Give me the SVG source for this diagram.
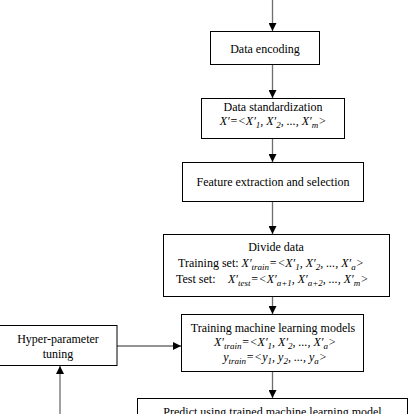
<svg xmlns="http://www.w3.org/2000/svg" width="414" height="414" viewBox="0 0 414 414">
<style>
.box{fill:#fff;stroke:#000;stroke-width:1}
.t{font-family:"Liberation Serif","Times New Roman",serif;font-size:12px;fill:#000}
.i{font-style:italic}
.s{font-size:9px;font-style:italic}
.c{stroke:#6e6e6e;stroke-width:1.3;fill:none}
</style>
<defs>
<marker id="ah" markerUnits="userSpaceOnUse" markerWidth="8" markerHeight="8" refX="8" refY="4" orient="auto">
<path d="M0,0 L8,4 L0,8 z" fill="#000"/>
</marker>
</defs>
<rect width="414" height="414" fill="#fff"/>
<g id="connectors">
<line class="c" x1="272.5" y1="0" x2="272.5" y2="31" marker-end="url(#ah)"/>
<line class="c" x1="272.5" y1="65" x2="272.5" y2="98" marker-end="url(#ah)"/>
<line class="c" x1="272.5" y1="139" x2="272.5" y2="162" marker-end="url(#ah)"/>
<line class="c" x1="272.5" y1="202" x2="272.5" y2="234" marker-end="url(#ah)"/>
<line class="c" x1="272.5" y1="297" x2="272.5" y2="314" marker-end="url(#ah)"/>
<line class="c" x1="272.5" y1="372" x2="272.5" y2="398" marker-end="url(#ah)"/>
<line class="c" x1="117" y1="346" x2="181" y2="346" marker-end="url(#ah)"/>
<line class="c" x1="60" y1="414" x2="60" y2="366" marker-end="url(#ah)"/>
</g>
<g id="encoding">
<rect class="box" x="210.5" y="31.5" width="109" height="33"/>
<text class="t" x="265" y="53" text-anchor="middle">Data encoding</text>
</g>
<g id="standardization">
<rect class="box" x="201.5" y="98.5" width="143" height="40"/>
<text class="t" x="273" y="111" text-anchor="middle">Data standardization</text>
<text class="t i" x="273" y="125" text-anchor="middle">X′=&lt;X′<tspan class="s" dy="3">1</tspan><tspan dy="-3">, X′</tspan><tspan class="s" dy="3">2</tspan><tspan dy="-3">, ..., X′</tspan><tspan class="s" dy="3">m</tspan><tspan dy="-3">&gt;</tspan></text>
</g>
<g id="feature">
<rect class="box" x="182.5" y="162.5" width="181" height="39"/>
<text class="t" x="273" y="186" text-anchor="middle">Feature extraction and selection</text>
</g>
<g id="divide">
<rect class="box" x="163.5" y="234.5" width="226" height="62"/>
<text class="t" x="276" y="251" text-anchor="middle">Divide data</text>
<text class="t" x="178" y="267">Training set: <tspan class="i">X′</tspan><tspan class="s" dy="3">train</tspan><tspan class="i" dy="-3">=&lt;X′</tspan><tspan class="s" dy="3">1</tspan><tspan class="i" dy="-3">, X′</tspan><tspan class="s" dy="3">2</tspan><tspan class="i" dy="-3">, ..., X′</tspan><tspan class="s" dy="3">a</tspan><tspan class="i" dy="-3">&gt;</tspan></text>
<text class="t" x="176" y="283">Test set:</text>
<text class="t i" x="228" y="283">X′<tspan class="s" dy="3">test</tspan><tspan dy="-3">=&lt;X′</tspan><tspan class="s" dy="3">a+1</tspan><tspan dy="-3">, X′</tspan><tspan class="s" dy="3">a+2</tspan><tspan dy="-3">, ..., X′</tspan><tspan class="s" dy="3">m</tspan><tspan dy="-3">&gt;</tspan></text>
</g>
<g id="hyper">
<rect class="box" x="-1" y="325.5" width="118" height="40"/>
<text class="t" x="58" y="343" text-anchor="middle">Hyper-parameter</text>
<text class="t" x="58" y="358" text-anchor="middle">tuning</text>
</g>
<g id="training">
<rect class="box" x="181.5" y="314.5" width="182" height="57"/>
<text class="t" x="273" y="332" text-anchor="middle">Training machine learning models</text>
<text class="t i" x="275" y="346" text-anchor="middle">X′<tspan class="s" dy="3">train</tspan><tspan dy="-3">=&lt;X′</tspan><tspan class="s" dy="3">1</tspan><tspan dy="-3">, X′</tspan><tspan class="s" dy="3">2</tspan><tspan dy="-3">, ..., X′</tspan><tspan class="s" dy="3">a</tspan><tspan dy="-3">&gt;</tspan></text>
<text class="t i" x="275" y="361" text-anchor="middle">y<tspan class="s" dy="3">train</tspan><tspan dy="-3">=&lt;y</tspan><tspan class="s" dy="3">1</tspan><tspan dy="-3">, y</tspan><tspan class="s" dy="3">2</tspan><tspan dy="-3">, ..., y</tspan><tspan class="s" dy="3">a</tspan><tspan dy="-3">&gt;</tspan></text>
</g>
<g id="predict">
<rect class="box" x="137.5" y="398.5" width="270" height="30"/>
<text class="t" x="272.5" y="416" text-anchor="middle">Predict using trained machine learning model</text>
</g>
</svg>
